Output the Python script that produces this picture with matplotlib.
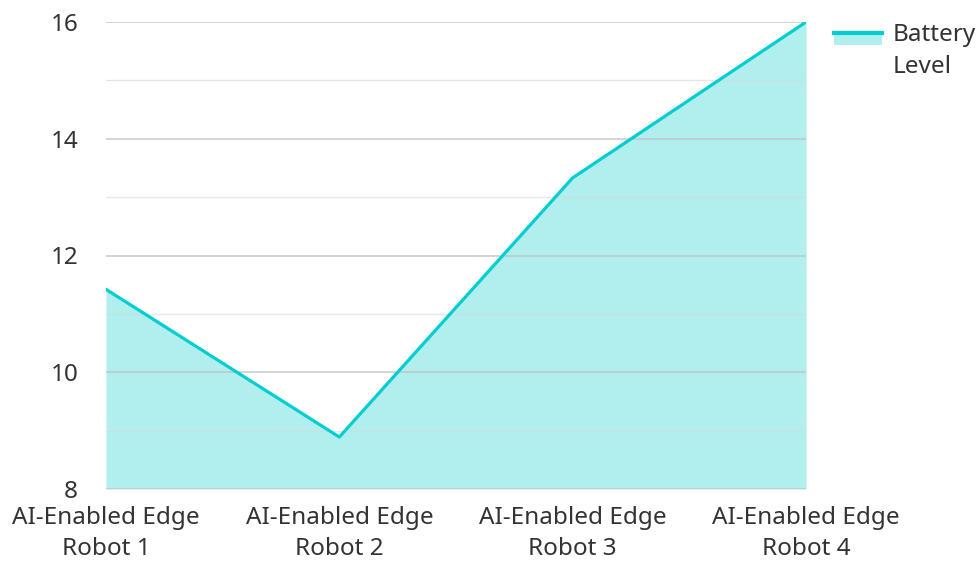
import matplotlib.pyplot as plt
from matplotlib.patches import Rectangle
from matplotlib.lines import Line2D

# Data
robots = ['AI-Enabled Edge\nRobot 1', 'AI-Enabled Edge\nRobot 2',
          'AI-Enabled Edge\nRobot 3', 'AI-Enabled Edge\nRobot 4']
battery_level = [11.42, 8.89, 13.33, 16.0]
y_ticks = [8, 10, 12, 14, 16]
y_minor = [9, 11, 13, 15]

line_color = '#00CED1'
fill_color = '#B0EFEE'
text_color = '#333333'

plt.rcParams['font.family'] = ['Noto Sans', 'DejaVu Sans']


class AreaHandler:
    # line on top, filled band under it, level with the first text line
    def legend_artist(self, legend, orig_handle, fontsize, handlebox):
        x0, y0 = handlebox.xdescent, handlebox.ydescent
        w, h = handlebox.width, handlebox.height
        top = y0 + h * 0.8 + 10
        rect = Rectangle((x0, top - 9), w, 9,
                         facecolor=fill_color, edgecolor='none',
                         transform=handlebox.get_transform())
        ln = Line2D([x0, x0 + w], [top, top], color=line_color, linewidth=3,
                    transform=handlebox.get_transform())
        handlebox.add_artist(rect)
        handlebox.add_artist(ln)
        return rect


fig = plt.figure(figsize=(9.8, 5.61), dpi=100)
ax = fig.add_axes([106/980, 1 - 489/561, 700/980, 467/561])

x = list(range(len(robots)))
ax.fill_between(x, battery_level, 8, color=fill_color, linewidth=0, zorder=1)
ax.plot(x, battery_level, color=line_color, linewidth=2.3, zorder=3)

# gridlines drawn over the fill
for v in y_ticks:
    ax.axhline(v, color='#c0c0c0', linewidth=1.2, alpha=0.8, zorder=2)
for v in y_minor:
    ax.axhline(v, color='#d8d8d8', linewidth=1.0, alpha=0.6, zorder=2)

ax.set_xlim(0, 3)
ax.set_ylim(8, 16)
ax.set_yticks(y_ticks)
ax.set_xticks(x)
ax.set_xticklabels(robots)
for lbl in ax.get_xticklabels():
    lbl.set_linespacing(1.4)
ax.tick_params(axis='both', length=0, labelsize=17.5, colors=text_color)
ax.tick_params(axis='y', pad=20)
ax.tick_params(axis='x', pad=12)
for s in ax.spines.values():
    s.set_visible(False)

leg = fig.legend(['area'], ['Battery\nLevel'], loc='upper left',
                 bbox_to_anchor=(827/980, 1 - 16/561), frameon=False,
                 fontsize=17.5, handlelength=1.97, handletextpad=0.42,
                 borderaxespad=0, borderpad=0.3,
                 handler_map={str: AreaHandler()})
for t in leg.get_texts():
    t.set_color(text_color)
    t.set_linespacing(1.45)

fig.savefig('out.png', dpi=100)
